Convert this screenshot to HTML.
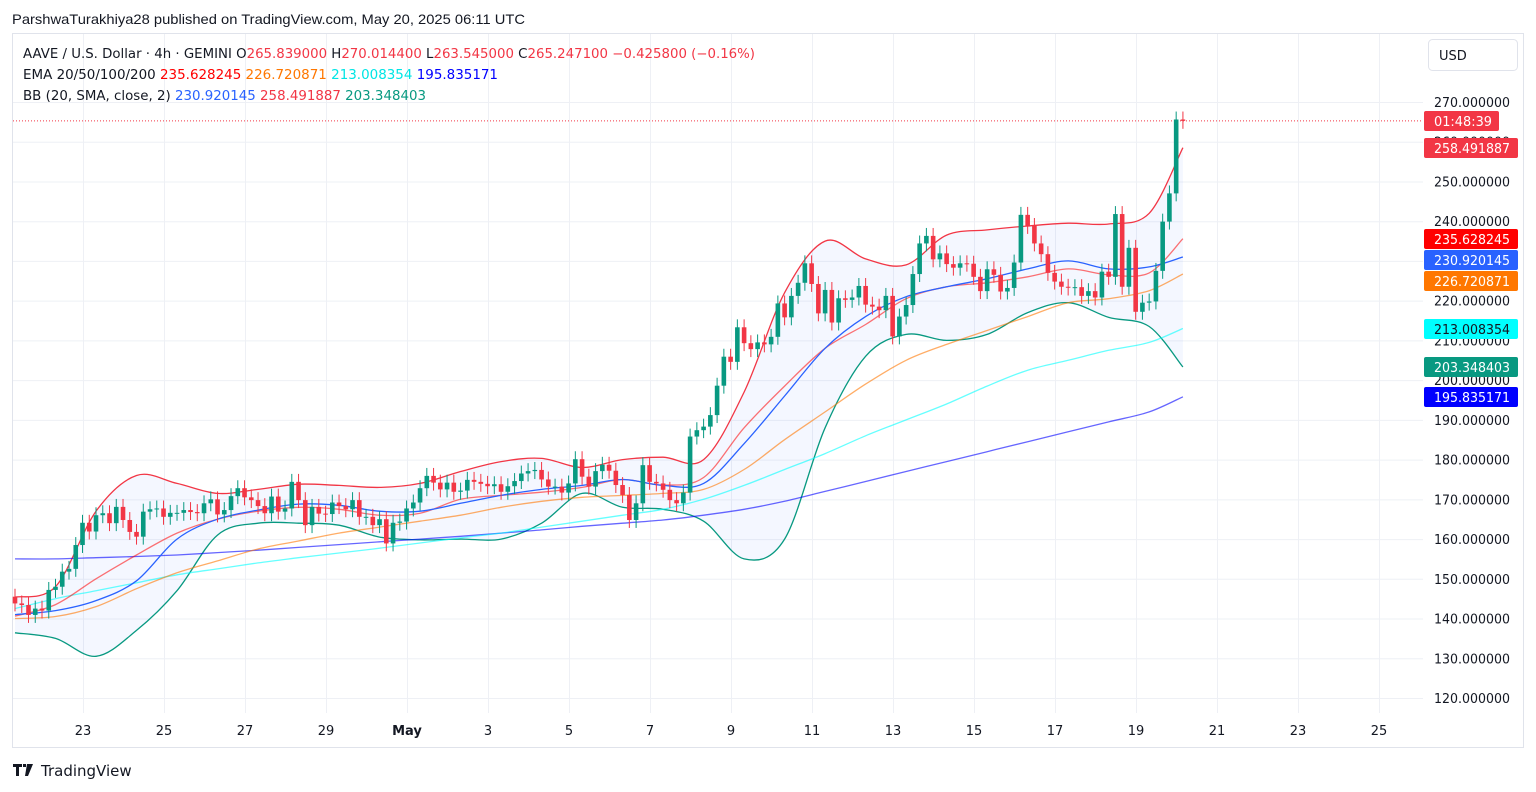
<!DOCTYPE html>
<html><head><meta charset="utf-8">
<style>
body{margin:0;background:#fff;font-family:"Liberation Sans",sans-serif;}
#wrap{position:relative;width:1536px;height:792px;overflow:hidden;}
svg text{font-family:"DejaVu Sans","Liberation Sans",sans-serif;}
</style></head>
<body>
<div id="wrap">
<svg id="chart" width="1536" height="792" xmlns="http://www.w3.org/2000/svg">
  <text x="12" y="24" font-size="14" fill="#131722" textLength="513" lengthAdjust="spacingAndGlyphs" style="font-family:'Liberation Sans',sans-serif">ParshwaTurakhiya28 published on TradingView.com, May 20, 2025 06:11 UTC</text>
  <rect x="12.5" y="33.5" width="1511" height="714" fill="none" stroke="#e0e3eb"/>
  <g id="grid"></g>
  <g id="lines"></g>
  <g id="candles"></g>
  <g id="yaxis"></g>
  <g id="xaxis"></g>
  <g font-size="13">
    <text x="23" y="58" fill="#131722" textLength="732" lengthAdjust="spacingAndGlyphs">AAVE / U.S. Dollar · 4h · GEMINI  O<tspan fill="#f23645">265.839000</tspan>  H<tspan fill="#f23645">270.014400</tspan>  L<tspan fill="#f23645">263.545000</tspan>  C<tspan fill="#f23645">265.247100</tspan>  <tspan fill="#f23645">−0.425800 (−0.16%)</tspan></text>
    <text x="23" y="79" fill="#131722" textLength="475" lengthAdjust="spacingAndGlyphs">EMA 20/50/100/200  <tspan fill="#ff0000">235.628245</tspan>  <tspan fill="#ff7700">226.720871</tspan>  <tspan fill="#00e5e5">213.008354</tspan>  <tspan fill="#0000ff">195.835171</tspan></text>
    <text x="23" y="100" fill="#131722" textLength="403" lengthAdjust="spacingAndGlyphs">BB (20, SMA, close, 2)  <tspan fill="#2962ff">230.920145</tspan>  <tspan fill="#f23645">258.491887</tspan>  <tspan fill="#089981">203.348403</tspan></text>
  </g>
  <g>
    <rect x="1428.5" y="39.5" width="89" height="31" rx="4" fill="#fff" stroke="#e0e3eb"/>
    <text x="1439" y="60" font-size="13" fill="#131722">USD</text>
  </g>
  <g>
    <path d="M13 764h9v3h-3v9h-3v-9h-3z M23 764h3v3h-3z M27 764h6l-5 12h-3z" fill="#131722"/>
    <text x="41" y="776" font-size="15" fill="#131722">TradingView</text>
  </g>
</svg>
</div>
<script>
const closes=[143.8,143.4,140.9,142.5,142,147.2,148,151.8,152.5,158.5,164.1,161.9,166,166.5,164,168.1,164.8,161.8,160.6,166.9,167.5,167.7,165.6,166.6,166.6,167.3,166.8,166.5,169,170,166.2,167.3,170.8,172.8,170.5,169.8,168.3,166.5,170.7,166.9,167.7,174.4,169.8,163.5,168.1,166.4,166.3,169.2,168.3,167.5,169.8,165.6,165.6,163.5,165,158.9,164.1,164.4,167.7,169.2,172.8,175.9,174.2,172.5,174.2,171.9,172.2,174.9,174.4,173.9,173.3,173.8,171.9,173.3,174.6,176.5,177.1,177.4,175,173.2,173.2,171.7,174,180.1,175.7,173.2,177.1,178.7,177.2,173.6,171.1,164.8,169,178.6,174.4,174,172.4,169.8,169,171.7,185.8,187.4,188.3,191.2,198.6,205.9,204.6,213.3,209.3,207.8,209.5,209.0,210.9,219.3,215.8,221.2,224.5,229.4,224.2,216.8,222.7,214.5,220.6,220.2,220.8,223.7,219.0,218.5,217.6,221.2,211,216,218.9,226.7,234.4,236.3,230.4,231.9,229.2,228.3,229.4,229.3,226,222.4,227.9,226.5,222.3,223.2,229.6,241.6,238.8,234.4,231.7,227.0,224.8,223.5,223.3,223.4,221.2,222.4,220.8,227.3,226,241.8,223.5,233.3,217.2,219.5,219.8,227.5,239.9,247,265.6,265.25];
const firstOpen=145.5;
const lineIdx=[0,6,12,18,24,30,36,42,48,54,60,66,72,78,84,90,96,102,108,114,120,126,132,138,144,150,156,162,168,173];
const ema20=[140.6,143.5,150,156,161.5,165,167,168,167.5,166,166.5,170,171,171.8,173,175,173.6,175.5,188,198.5,208,214,220.5,223.5,224.5,226,228,226.5,227,235.6];
const ema50=[140,140.5,143,147.5,151.5,154.5,157.5,159.5,161.5,163,164.5,166,168,169.5,170.5,171,171.5,172.5,177.5,185,192,199,205,209,212.5,216,219.5,220.5,222.5,226.7];
const ema100=[142.5,145,147,149,151,152.5,154,155.3,156.5,157.7,159,160.3,161.5,163,164.5,166,167.5,170,173.5,177.5,181.5,186,190,194,198.5,202.5,205,207.5,209.5,213];
const ema200=[155,155,155.3,155.6,156,156.6,157.2,157.9,158.6,159.3,160,160.7,161.5,162.3,163.2,164,164.8,166,167.5,169.5,172,174.5,177,179.5,182,184.5,187,189.5,192,195.8];
const bbBasis=[141,142,144.5,149.5,160,165,167.3,168.8,168.5,167,167,169,171,172.5,173.5,175,173.5,174,184,196,208,216,221,223.5,225.5,228,230,228,228.5,231];
const bbUpper=[145.4,148,167,176,174,171.5,172.5,173.8,173.5,173,174,177,179.5,180.3,178,180,180.6,180,197,222,235,230.5,229,236.5,237.8,238.8,239.5,239.3,242,258.5];
const bbLower=[136.4,135,130.5,137,147,161,164,164,163.5,160.5,159.8,160,160,164,171.5,168,167.5,164.5,155,160,188,206,211.5,210,211.5,217,219.5,215.8,213.5,203.3];
const priceTicks=[270,260,250,240,230,220,210,200,190,180,170,160,150,140,130,120];
const dayLabels=["23","25","27","29","May","3","5","7","9","11","13","15","17","19","21","23","25"];
const lastPrice=265.2471;

const NS="http://www.w3.org/2000/svg";
const yS=p=>102+(270-p)*3.9733;
const xS=i=>15+i*6.751;
const dayX=k=>83+k*81;
const X0=13,X1=1423;
function mk(tag,attrs,parent){const e=document.createElementNS(NS,tag);for(const k in attrs)e.setAttribute(k,attrs[k]);parent.appendChild(e);return e;}

const grid=document.getElementById('grid');
priceTicks.forEach(p=>{mk('line',{x1:X0,x2:X1,y1:yS(p)+0.5,y2:yS(p)+0.5,stroke:'#eef0f5'},grid);});
dayLabels.forEach((d,k)=>{mk('line',{x1:dayX(k)+0.5,x2:dayX(k)+0.5,y1:34,y2:713,stroke:'#eef0f5'},grid);});

const lines=document.getElementById('lines');
function ptsArr(arr){return arr.map((v,j)=>[xS(lineIdx[j]),yS(v)]);}
function smooth(P,move){let d=move?'M'+P[0][0].toFixed(1)+','+P[0][1].toFixed(1):'L'+P[0][0].toFixed(1)+','+P[0][1].toFixed(1);
for(let i=0;i<P.length-1;i++){const p0=P[Math.max(0,i-1)],p1=P[i],p2=P[i+1],p3=P[Math.min(P.length-1,i+2)];
const c1=[p1[0]+(p2[0]-p0[0])/6,p1[1]+(p2[1]-p0[1])/6],c2=[p2[0]-(p3[0]-p1[0])/6,p2[1]-(p3[1]-p1[1])/6];
d+='C'+c1[0].toFixed(1)+','+c1[1].toFixed(1)+' '+c2[0].toFixed(1)+','+c2[1].toFixed(1)+' '+p2[0].toFixed(1)+','+p2[1].toFixed(1);}
return d;}
const fill=mk('path',{d:smooth(ptsArr(bbUpper),true)+smooth(ptsArr(bbLower).reverse(),false)+'Z',fill:'rgba(41,98,255,0.05)'},lines);


const series=[['bb-upper',bbUpper,'#f23645',1],['bb-lower',bbLower,'#089981',1],['ema-200',ema200,'#0000ff',0.6],['ema-100',ema100,'#00ffff',0.6],['ema-50',ema50,'#ff7700',0.6],['ema-20',ema20,'#ff0000',0.55],['bb-basis',bbBasis,'#2962ff',1]];
series.forEach(s=>{const l=mk('path',{d:smooth(ptsArr(s[1]),true),fill:'none',stroke:s[2],'stroke-width':1.3,'stroke-opacity':s[3]},lines);

});

mk('line',{x1:X0,x2:X1,y1:yS(lastPrice),y2:yS(lastPrice),stroke:'#f23645','stroke-dasharray':'1 2'},lines);

const cg=document.getElementById('candles');
closes.forEach((c,i)=>{const o=i===0?firstOpen:closes[i-1];const up=c>=o;const col=up?'#089981':'#f23645';const x=xS(i);
const hi=Math.max(o,c)+2,lo=Math.min(o,c)-2;
const g=mk('g',{},cg);


mk('line',{x1:x,x2:x,y1:yS(hi),y2:yS(lo),stroke:col,'stroke-width':1},g);
const top=yS(Math.max(o,c)),h=Math.max(1,yS(Math.min(o,c))-top);
mk('rect',{x:x-2.3,y:top,width:4.6,height:h,fill:col},g);});

const ya=document.getElementById('yaxis');
priceTicks.forEach(p=>{const t=mk('text',{x:1434,y:yS(p)+5,'font-size':13,fill:'#131722',textLength:76,lengthAdjust:'spacingAndGlyphs'},ya);t.textContent=p.toFixed(6);

});
const badges=[['01:48:39',lastPrice,'#f23645','#fff'],['258.491887',258.491887,'#f23645','#fff'],['235.628245',235.628245,'#ff0000','#fff'],['230.920145',230.920145,'#2962ff','#fff'],['226.720871',226.720871,'#ff7700','#fff'],['213.008354',213.008354,'#00ffff','#131722'],['203.348403',203.348403,'#089981','#fff'],['195.835171',195.835171,'#0000ff','#fff']];
const ypos=[121,148,239,260,281,329,367,397];
badges.forEach((b,j)=>{const y=ypos[j];const g=mk('g',{},ya);


const w=j===0?75:94;
mk('rect',{x:1424,y:y-10,width:w,height:20,rx:2,fill:b[2]},g);
const t=mk('text',{x:1434,y:y+5,'font-size':13,fill:b[3],textLength:j===0?58:76,lengthAdjust:'spacingAndGlyphs'},g);t.textContent=b[0];});

const xa=document.getElementById('xaxis');
dayLabels.forEach((d,k)=>{const t=mk('text',{x:dayX(k),y:735,'font-size':13,fill:'#131722','text-anchor':'middle','font-weight':d==='May'?'bold':'normal'},xa);t.textContent=d;

});
</script>
</body></html>
